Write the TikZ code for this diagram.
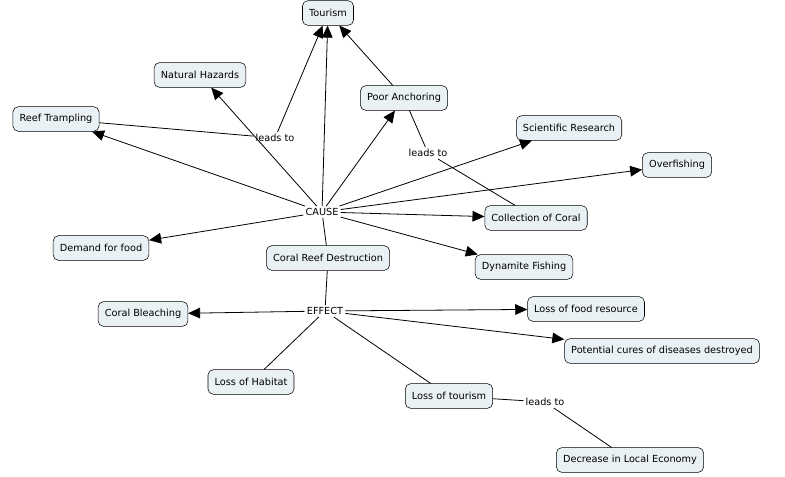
\documentclass[tikz,border=0pt]{standalone}
\usepackage{fontspec}
\setmainfont{DejaVu Sans}
\usetikzlibrary{arrows.meta}
\begin{document}
\begin{tikzpicture}[x=0.75pt,y=-0.75pt,
  box/.style={draw=black,fill=cbg,rounded corners=4pt,font=\fontsize{7.3}{8}\selectfont,minimum height=18.5pt,inner xsep=5pt},
  lab/.style={font=\fontsize{7.3}{8}\selectfont,inner sep=1.5pt},
  arr/.style={-{Triangle[length=9pt,width=8pt]},thick,line width=0.6pt},
  ln/.style={line width=0.6pt}]
\definecolor{cbg}{HTML}{EAF1F5}
\useasboundingbox (0,0) rectangle (785,477);
\node[box] (tour) at (328,13) {Tourism};
\node[box] (nat) at (200,75) {Natural Hazards};
\node[box] (reef) at (56,119) {Reef Trampling};
\node[box] (poor) at (404,98) {Poor Anchoring};
\node[box] (sci) at (569,128) {Scientific Research};
\node[box] (over) at (677,165) {Overfishing};
\node[lab] (cause) at (322,212) {CAUSE};
\node[box] (coll) at (536,218) {Collection of Coral};
\node[box] (dem) at (101,248) {Demand for food};
\node[box] (crd) at (328,258) {Coral Reef Destruction};
\node[box] (dyn) at (524,267) {Dynamite Fishing};
\node[box] (blea) at (143,314) {Coral Bleaching};
\node[lab] (eff) at (325,311) {EFFECT};
\node[box] (food) at (586,309) {Loss of food resource};
\node[box] (cure) at (662,351) {Potential cures of diseases destroyed};
\node[box] (hab) at (251,382) {Loss of Habitat};
\node[box] (ltour) at (449,396) {Loss of tourism};
\node[box] (dec) at (630,460) {Decrease in Local Economy};
\node[lab] (l1) at (275,138) {leads to};
\node[lab] (l2) at (428,153) {leads to};
\node[lab] (l3) at (545,402) {leads to};

\draw[ln] (reef) -- (l1);
\draw[arr] (l1) -- (tour);
\draw[arr] (poor) -- (tour);
\draw[ln] (poor) -- (l2);
\draw[ln] (l2) -- (coll);
\draw[ln] (crd) -- (cause);
\draw[ln] (crd) -- (eff);
\foreach \t in {tour,nat,reef,poor,sci,over,coll,dyn,dem}
  \draw[arr] (cause) -- (\t);
\foreach \t in {blea,food,cure}
  \draw[arr] (eff) -- (\t);
\draw[ln] (eff) -- (hab);
\draw[ln] (eff) -- (ltour);
\draw[ln] (ltour) -- (l3);
\draw[ln] (l3) -- (dec);
\end{tikzpicture}
\end{document}
